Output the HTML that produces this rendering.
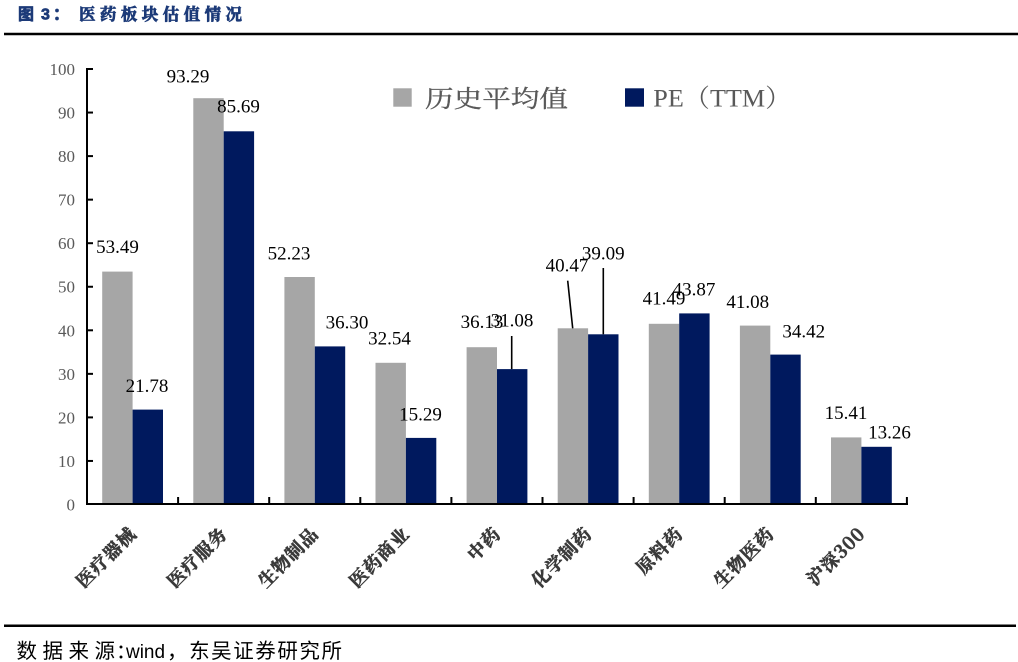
<!DOCTYPE html>
<html>
<head>
<meta charset="utf-8">
<style>
  html,body{margin:0;padding:0;background:#fff;}
  body{width:1018px;height:662px;overflow:hidden;}
  svg{display:block;}
</style>
</head>
<body>
<svg width="1018" height="662" viewBox="0 0 1018 662" xmlns="http://www.w3.org/2000/svg">
  <rect x="0" y="0" width="1018" height="662" fill="#fff"/>

  <!-- Title -->
  <g fill="#1c3a78" stroke="#1c3a78" stroke-width="0.7">
    <text x="18" y="19.5" font-family="'Noto Sans CJK SC', sans-serif" font-weight="bold" font-size="16">图</text>
    <text x="41" y="19.5" font-family="'Liberation Sans', 'Noto Sans CJK SC', sans-serif" font-weight="bold" font-size="16">3</text>
    <text x="53" y="19.5" font-family="'Noto Sans CJK SC', sans-serif" font-weight="bold" font-size="16">：</text>
    <text x="79" y="20" font-family="'Liberation Serif', 'Noto Serif CJK SC', serif" font-weight="bold" font-size="16.5" textLength="163" lengthAdjust="spacing">医药板块估值情况</text>
  </g>

  <!-- Top rule -->
  <line x1="4" y1="34" x2="1018" y2="34" stroke="#000" stroke-width="2.5"/>

  <!-- Bars -->
  <g>
    <rect x="102.2" y="271.6" width="30.4" height="231.9" fill="#A6A6A6"/>
    <rect x="132.6" y="409.6" width="30.4" height="93.9" fill="#00195E"/>
    <rect x="193.3" y="98.2" width="30.4" height="405.3" fill="#A6A6A6"/>
    <rect x="223.7" y="131.3" width="30.4" height="372.2" fill="#00195E"/>
    <rect x="284.4" y="277.0" width="30.4" height="226.5" fill="#A6A6A6"/>
    <rect x="314.8" y="346.4" width="30.4" height="157.1" fill="#00195E"/>
    <rect x="375.5" y="362.8" width="30.4" height="140.7" fill="#A6A6A6"/>
    <rect x="405.9" y="437.9" width="30.4" height="65.6" fill="#00195E"/>
    <rect x="466.6" y="347.2" width="30.4" height="156.3" fill="#A6A6A6"/>
    <rect x="497.0" y="369.1" width="30.4" height="134.4" fill="#00195E"/>
    <rect x="557.7" y="328.3" width="30.4" height="175.2" fill="#A6A6A6"/>
    <rect x="588.1" y="334.3" width="30.4" height="169.2" fill="#00195E"/>
    <rect x="648.8" y="323.8" width="30.4" height="179.7" fill="#A6A6A6"/>
    <rect x="679.2" y="313.4" width="30.4" height="190.1" fill="#00195E"/>
    <rect x="739.9" y="325.6" width="30.4" height="177.9" fill="#A6A6A6"/>
    <rect x="770.3" y="354.6" width="30.4" height="148.9" fill="#00195E"/>
    <rect x="831.0" y="437.4" width="30.4" height="66.1" fill="#A6A6A6"/>
    <rect x="861.4" y="446.8" width="30.4" height="56.7" fill="#00195E"/>
  </g>

  <!-- Y axis -->
  <line x1="87" y1="68" x2="87" y2="505" stroke="#000" stroke-width="2"/>
  <g stroke="#000" stroke-width="2">
    <line x1="87" y1="69" x2="93" y2="69"/>
    <line x1="87" y1="112.55" x2="93" y2="112.55"/>
    <line x1="87" y1="156.1" x2="93" y2="156.1"/>
    <line x1="87" y1="199.65" x2="93" y2="199.65"/>
    <line x1="87" y1="243.2" x2="93" y2="243.2"/>
    <line x1="87" y1="286.75" x2="93" y2="286.75"/>
    <line x1="87" y1="330.3" x2="93" y2="330.3"/>
    <line x1="87" y1="373.85" x2="93" y2="373.85"/>
    <line x1="87" y1="417.4" x2="93" y2="417.4"/>
    <line x1="87" y1="460.95" x2="93" y2="460.95"/>
  </g>
  <g font-family="'Liberation Serif', serif" font-size="17" fill="#595959" text-anchor="end">
    <text x="75" y="75">100</text>
    <text x="75" y="118.5">90</text>
    <text x="75" y="162">80</text>
    <text x="75" y="205.6">70</text>
    <text x="75" y="249.2">60</text>
    <text x="75" y="292.7">50</text>
    <text x="75" y="336.3">40</text>
    <text x="75" y="379.8">30</text>
    <text x="75" y="423.4">20</text>
    <text x="75" y="466.9">10</text>
    <text x="75" y="510.5">0</text>
  </g>

  <!-- X axis -->
  <line x1="86" y1="504" x2="908" y2="504" stroke="#000" stroke-width="2"/>
  <g stroke="#000" stroke-width="2">
    <line x1="178.1" y1="497" x2="178.1" y2="504"/>
    <line x1="269.2" y1="497" x2="269.2" y2="504"/>
    <line x1="360.3" y1="497" x2="360.3" y2="504"/>
    <line x1="451.4" y1="497" x2="451.4" y2="504"/>
    <line x1="542.5" y1="497" x2="542.5" y2="504"/>
    <line x1="633.6" y1="497" x2="633.6" y2="504"/>
    <line x1="724.7" y1="497" x2="724.7" y2="504"/>
    <line x1="815.8" y1="497" x2="815.8" y2="504"/>
    <line x1="906.9" y1="497" x2="906.9" y2="504"/>
  </g>

  <!-- Category labels -->
  <g font-family="'Noto Serif CJK SC', 'Noto Sans CJK SC', serif" font-weight="bold" font-size="18" fill="#3a3a3a" stroke="#3a3a3a" stroke-width="0.6" text-anchor="end" letter-spacing="1">
    <text transform="translate(137.5,535) rotate(-45)">医疗器械</text>
    <text transform="translate(228.6,535) rotate(-45)">医疗服务</text>
    <text transform="translate(319.7,535) rotate(-45)">生物制品</text>
    <text transform="translate(410.8,535) rotate(-45)">医药商业</text>
    <text transform="translate(501.9,535) rotate(-45)">中药</text>
    <text transform="translate(593,535) rotate(-45)">化学制药</text>
    <text transform="translate(684.1,535) rotate(-45)">原料药</text>
    <text transform="translate(775.2,535) rotate(-45)">生物医药</text>
    <text transform="translate(866.3,535) rotate(-45)">沪深300</text>
  </g>

  <!-- Leader lines -->
  <g stroke="#000" stroke-width="1.6">
    <line x1="511.7" y1="336" x2="511.7" y2="369.1"/>
    <line x1="567.7" y1="280.7" x2="572.7" y2="328.3"/>
    <line x1="603.3" y1="268" x2="603.3" y2="334.3"/>
  </g>

  <!-- Data labels -->
  <g font-family="'Liberation Serif', serif" font-size="19" fill="#000" text-anchor="middle">
    <text x="117.5" y="253.1">53.49</text>
    <text x="147" y="392.1">21.78</text>
    <text x="188" y="82.6">93.29</text>
    <text x="238.5" y="112.4">85.69</text>
    <text x="289" y="259.7">52.23</text>
    <text x="347" y="328.7">36.30</text>
    <text x="389.5" y="344.7">32.54</text>
    <text x="420.5" y="420.4">15.29</text>
    <text x="482" y="328.1">36.13</text>
    <text x="512" y="326.4">31.08</text>
    <text x="567" y="271.4">40.47</text>
    <text x="603.3" y="259.7">39.09</text>
    <text x="664" y="304.7">41.49</text>
    <text x="694" y="295.7">43.87</text>
    <text x="747.7" y="308.1">41.08</text>
    <text x="803.7" y="337.4">34.42</text>
    <text x="846" y="419.1">15.41</text>
    <text x="889.5" y="438.7">13.26</text>
  </g>

  <!-- Legend -->
  <rect x="393.3" y="88.3" width="18.4" height="18.4" fill="#A6A6A6"/>
  <text x="425" y="107" font-family="'Noto Serif CJK SC', serif" font-size="24" fill="#595959" stroke="#595959" stroke-width="0.3" textLength="143" lengthAdjust="spacingAndGlyphs">历史平均值</text>
  <rect x="625" y="88.3" width="19" height="18.4" fill="#00195E"/>
  <text x="653.3" y="106.5" font-family="'Liberation Serif', 'Noto Serif CJK SC', serif" font-size="25" fill="#595959" textLength="138" lengthAdjust="spacingAndGlyphs">PE（TTM）</text>

  <!-- Bottom rule -->
  <line x1="4" y1="625.7" x2="1016" y2="625.7" stroke="#000" stroke-width="2.5"/>

  <!-- Source -->
  <text x="16.5" y="658" font-family="'Noto Sans CJK SC', sans-serif" font-size="20.5" fill="#000" textLength="98.5" lengthAdjust="spacing">数据来源</text>
  <text x="116" y="658" font-family="'Noto Sans CJK SC', sans-serif" font-size="20" fill="#000">：</text>
  <text x="126" y="658" font-family="'Liberation Sans', sans-serif" font-size="19" fill="#000" textLength="39" lengthAdjust="spacingAndGlyphs">wind</text>
  <text x="167" y="658" font-family="'Noto Sans CJK SC', sans-serif" font-size="20.5" fill="#000" textLength="175" lengthAdjust="spacing">，东吴证券研究所</text>
</svg>
</body>
</html>
